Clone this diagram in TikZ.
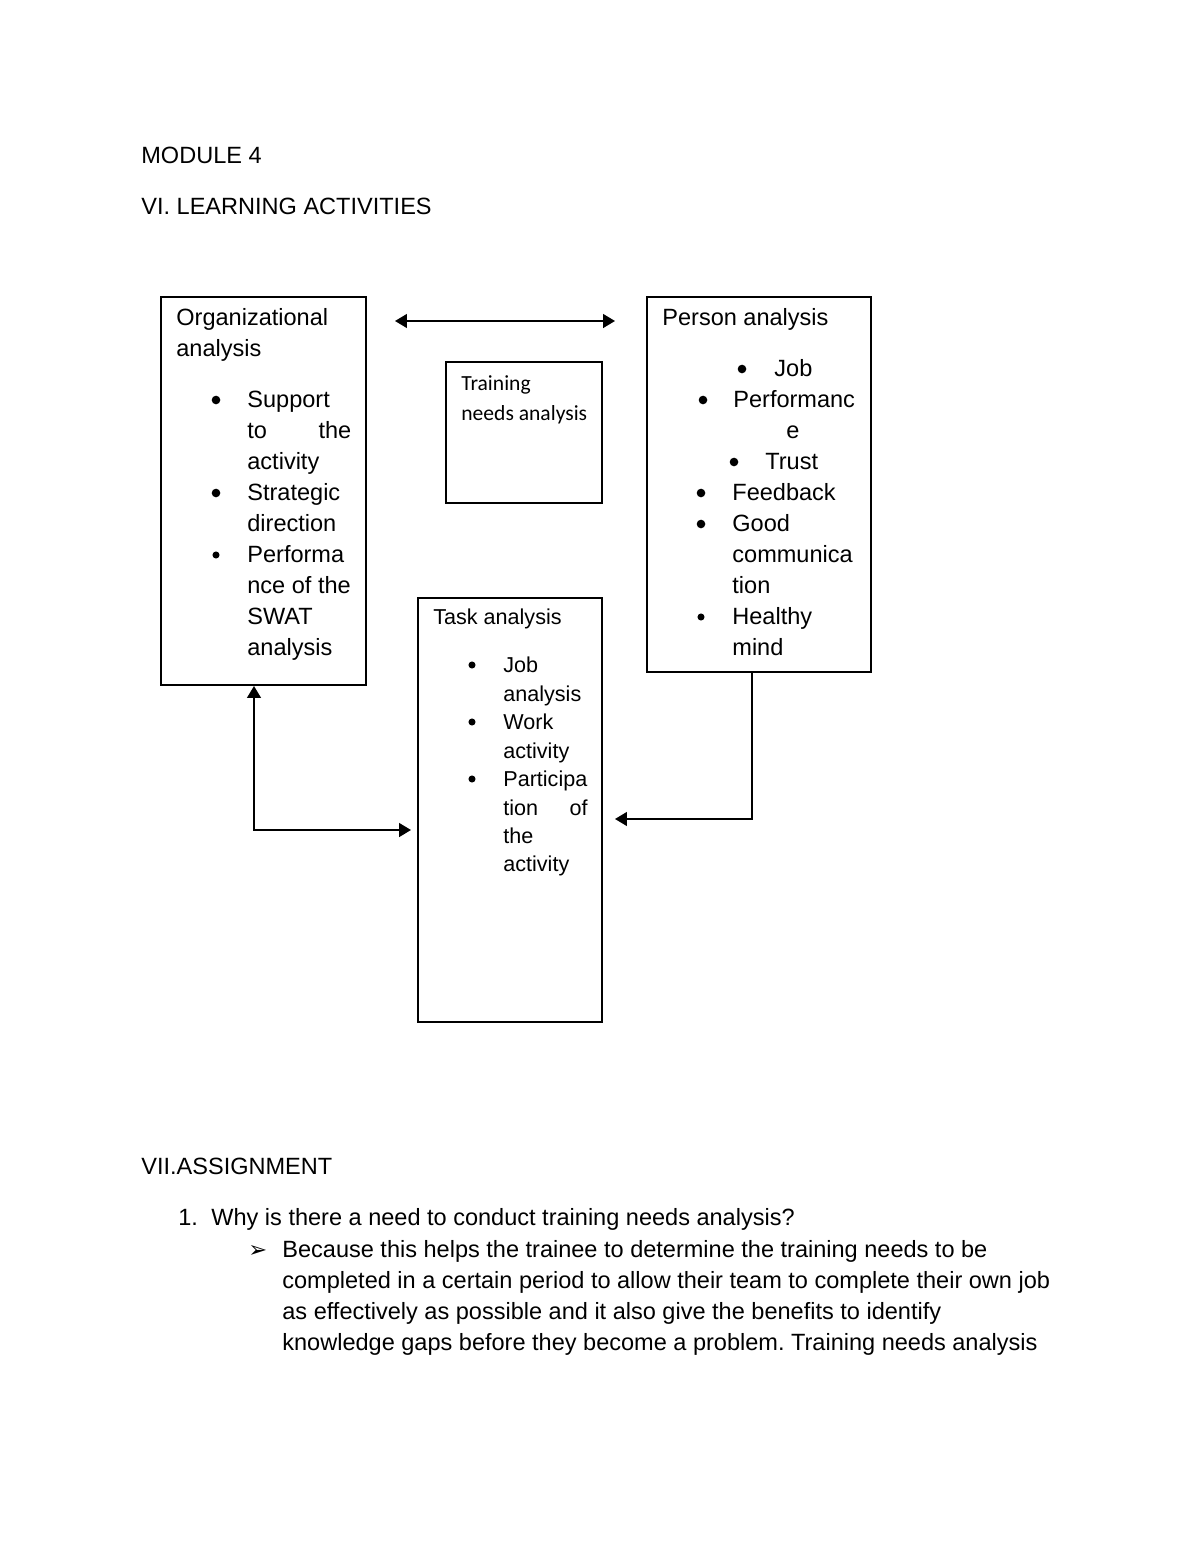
\documentclass[tikz,border=0pt]{standalone}
\usepackage{fontspec}
\setmainfont{Liberation Sans}
\newfontfamily\calibri{Carlito}
\newfontfamily\dejavu{DejaVu Sans}
\usetikzlibrary{arrows.meta,fit}
\frenchspacing
\tikzset{
  box/.style={draw, line width=0.75pt, inner sep=0pt},
  txt/.style={anchor=west, inner sep=0pt, text height=7.8pt, text depth=0pt,
    font=\fontsize{12}{14}\selectfont},
  tasktxt/.style={txt, font=\fontsize{11}{13}\selectfont},
  small/.style={txt, font=\calibri\fontsize{11}{13}\selectfont},
  dot/.style={circle, fill, inner sep=0pt, minimum size=4.4pt},
  tip/.style={line width=0.75pt, -{Triangle[length=6pt,width=7pt]}},
  bothtip/.style={line width=0.75pt, {Triangle[length=6pt,width=7pt]}-{Triangle[length=6pt,width=7pt]}},
}
\begin{document}
\begin{tikzpicture}[x=0.51pt, y=-0.51pt]
    \useasboundingbox (0,0) rectangle (1200,1553);

    % Titulos
    \node[txt] (module) at (141,156) {MODULE 4};
    \node[txt] (activities) at (141,207) {VI. LEARNING ACTIVITIES};

    % Organizational analysis
    \node[box, fit={(161,297) (366,685)}] (org) {};
    \node[txt] (org-t1) at (176,318) {Organizational};
    \node[txt] (org-t2) at (176,349) {analysis};
    \foreach \y/\val in {
        400/Support,
        431/{\hbox to 53pt{to\hfill the}},
        462/activity,
        493/Strategic,
        524/direction,
        555/Performa,
        586/nce of the,
        617/SWAT,
        648/analysis
        } {
        \node[txt] (org-\y) at (247,\y) {\val};
    }
    \foreach \y/\s in {400/4.4pt, 493/4.4pt, 555/3.6pt} {
        \node[dot, minimum size=\s] (org-dot-\y) at (216,\y) {};
    }

    % Training needs analysis
    \node[box, fit={(446,362) (602,503)}] (tna) {};
    \node[small] (tna-t1) at (461,383) {Training};
    \node[small] (tna-t2) at (461,413) {needs analysis};

    % Person analysis
    \node[box, fit={(647,297) (871,672)}] (person) {};
    \node[txt] (per-t) at (662,318) {Person analysis};
    \foreach \x/\y/\val in {
        774/369/Job,
        733/400/Performanc,
        786/431/e,
        765/462/Trust,
        732/493/Feedback,
        732/524/Good,
        732/555/communica,
        732/586/tion,
        732/617/Healthy,
        732/648/mind
        } {
        \node[txt] (per-\y) at (\x,\y) {\val};
    }
    \foreach \x/\y/\s in {742/369/4.4pt, 703/400/4.4pt, 734/462/4.4pt,
                          701/493/4.4pt, 701/524/4.4pt, 701/617/3.6pt} {
        \node[dot, minimum size=\s] (per-dot-\y) at (\x,\y) {};
    }

    % Task analysis
    \node[box, fit={(418,598) (602,1022)}] (task) {};
    \node[tasktxt] (task-t) at (433,617) {Task analysis};
    \foreach \y/\val in {
        665/Job,
        694/analysis,
        722/Work,
        751/activity,
        779/Participa,
        808/{\hbox to 43pt{tion\hfill of}},
        836/the,
        864/activity
        } {
        \node[tasktxt] (task-\y) at (503,\y) {\val};
    }
    \foreach \y in {665,722,779} {
        \node[dot, minimum size=3.6pt] (task-dot-\y) at (472,\y) {};
    }

    % Flechas
    \coordinate (top-l) at (395,321);
    \coordinate (top-r) at (615,321);
    \draw[bothtip] (top-l) -- (top-r);
    \coordinate (org-b) at (254,686);
    \coordinate (task-l) at (411,830);
    \draw[bothtip] (org-b) |- (task-l);
    \coordinate (per-b) at (752,672);
    \coordinate (task-r) at (615,819);
    \draw[tip] (per-b) |- (task-r);

    % Assignment
    \node[txt] (assign) at (141,1167) {VII.ASSIGNMENT};
    \node[txt] (q-num) at (178,1218) {1.};
    \node[txt] (q-text) at (211,1218) {Why is there a need to conduct training needs analysis?};
    \node[txt, font=\dejavu\fontsize{11.5}{13}\selectfont] (a-mark) at (248,1250) {➢};
    \foreach \y/\val in {
        1250/Because this helps the trainee to determine the training needs to be,
        1281/completed in a certain period to allow their team to complete their own job,
        1312/as effectively as possible and it also give the benefits to identify,
        1343/knowledge gaps before they become a problem. Training needs analysis
        } {
        \node[txt] (a-\y) at (282,\y) {\val};
    }
\end{tikzpicture}
\end{document}
